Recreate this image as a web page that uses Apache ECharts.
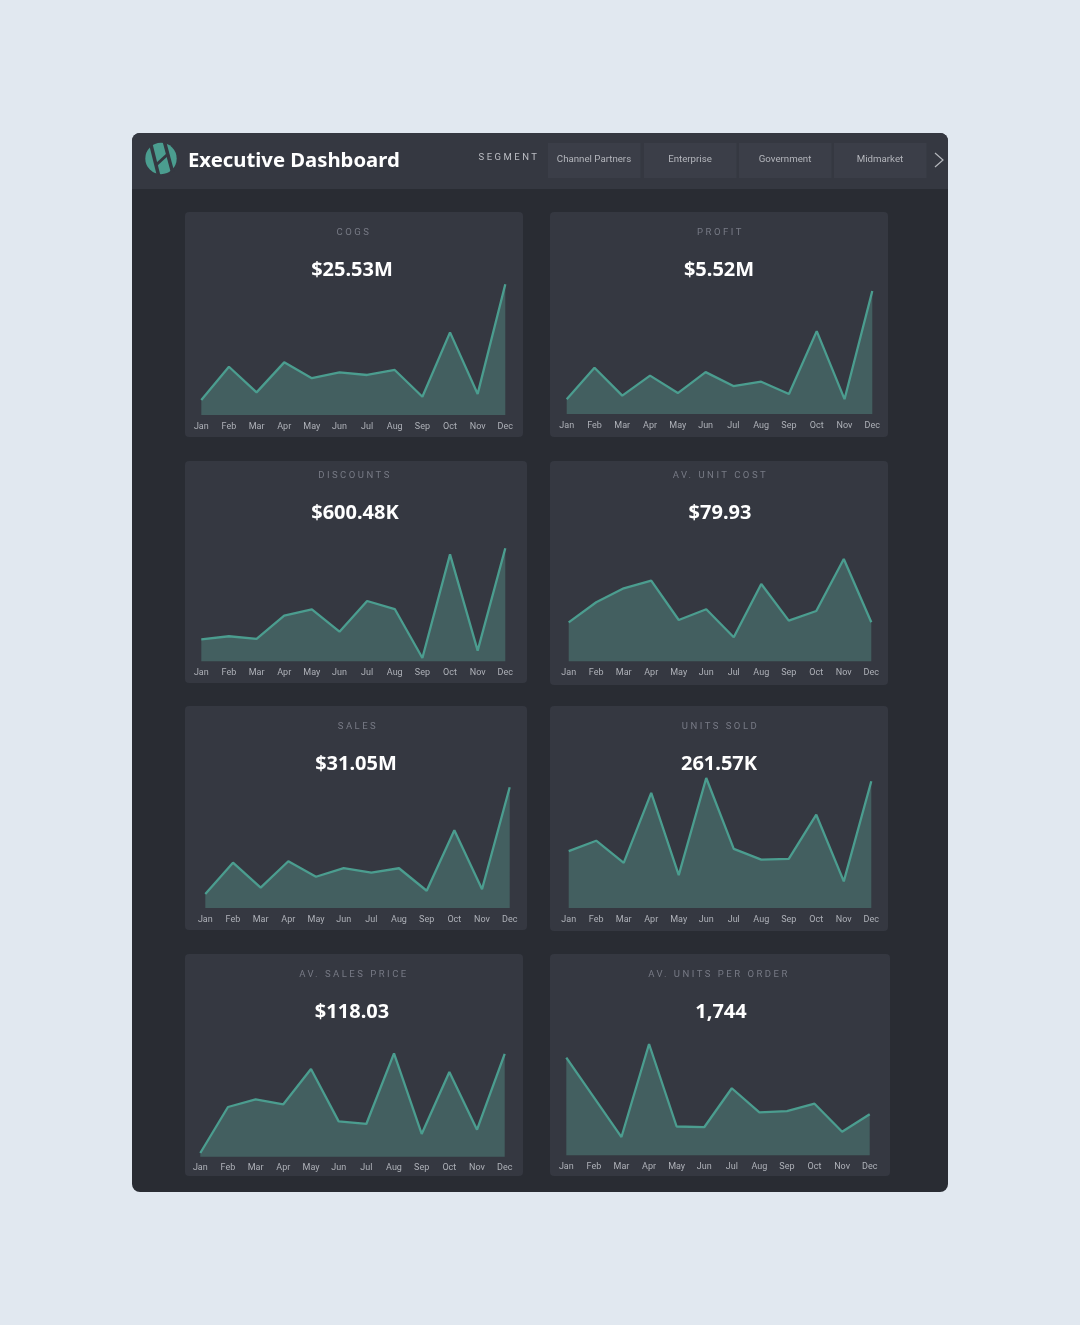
<!DOCTYPE html>
<html>
<head>
<meta charset="utf-8">
<title>Executive Dashboard</title>
<script src="https://cdn.jsdelivr.net/npm/echarts@6/dist/echarts.min.js"></script>
<style>
    html, body { margin: 0; padding: 0; background: #e1e8f0; }
    #wrap { position: relative; width: 1080px; height: 1325px; overflow: hidden; }
    #main { position: absolute; left: 0; top: 0; width: 1080px; height: 1325px; }
    .tracked {
        position: absolute;
        font-family: Roboto, sans-serif;
        font-size: 9.5px;
        line-height: 12px;
        white-space: nowrap;
        transform: translate(-50%, -50%);
    }
</style>
</head>
<body>
<div id="wrap"><div id="main"></div></div>
<script>
const months = ['Jan', 'Feb', 'Mar', 'Apr', 'May', 'Jun', 'Jul', 'Aug', 'Sep', 'Oct', 'Nov', 'Dec'];
const segments = ['Channel Partners', 'Enterprise', 'Government', 'Midmarket'];

// monthly values ($M, $K, $ or units)
const cogs = [0.69, 2.22, 1.04, 2.42, 1.69, 1.96, 1.84, 2.07, 0.84, 3.80, 0.97, 6.01];
const profit = [0.17, 0.53, 0.21, 0.44, 0.24, 0.48, 0.32, 0.37, 0.23, 0.95, 0.17, 1.41];
const discounts = [24.3, 27.7, 24.7, 50.5, 57.5, 32.8, 66.7, 57.8, 3.7, 118.3, 11.8, 125];
const unitCost = [55.1, 83.4, 103.2, 114, 58.4, 73.5, 33.9, 109.2, 57.5, 71.1, 144.6, 55.1];
const sales = [0.86, 2.78, 1.25, 2.87, 1.92, 2.45, 2.17, 2.44, 1.06, 4.77, 1.15, 7.41];
const unitsSold = [17.5, 20.7, 13.9, 35.4, 10.1, 40, 18.2, 14.9, 15.1, 28.7, 8.2, 39];
const salesPrice = [7.9, 106.5, 122.9, 112.2, 188, 75.7, 70.1, 221.5, 48.7, 181.6, 57.9, 220.2];
const unitsPerOrder = [278, 165, 52, 317, 82, 80, 191, 122, 126, 147, 67, 117];

const names = ['COGS', 'PROFIT', 'DISCOUNTS', 'AV. UNIT COST', 'SALES', 'UNITS SOLD', 'AV. SALES PRICE', 'AV. UNITS PER ORDER'];
const totals = ['$25.53M', '$5.52M', '$600.48K', '$79.93', '$31.05M', '261.57K', '$118.03', '1,744'];
const seriesValues = [cogs, profit, discounts, unitCost, sales, unitsSold, salesPrice, unitsPerOrder];

// page layout of each card: box, plot area, title and kpi anchors
const cards = [
    { x: 185, y: 212, w: 338, h: 225, left: 201.3, right: 505.3, top: 284.3, bottom: 415, nameX: 354, nameY: 231.5, kpiX: 352, kpiY: 270 },
    { x: 550, y: 212, w: 338, h: 225, left: 566.7, right: 872.3, top: 291, bottom: 414, nameX: 720.5, nameY: 231.5, kpiX: 719, kpiY: 270 },
    { x: 185, y: 461, w: 342, h: 222, left: 201.3, right: 505.3, top: 548.3, bottom: 661.3, nameX: 355, nameY: 474.5, kpiX: 355, kpiY: 513 },
    { x: 550, y: 461, w: 338, h: 224, left: 568.7, right: 871.3, top: 559, bottom: 661.3, nameX: 720.5, nameY: 474.5, kpiX: 720, kpiY: 513 },
    { x: 185, y: 706, w: 342, h: 224, left: 205.3, right: 509.7, top: 787.3, bottom: 908, nameX: 358, nameY: 725.5, kpiX: 356, kpiY: 764 },
    { x: 550, y: 706, w: 338, h: 225, left: 568.7, right: 871.3, top: 778, bottom: 908, nameX: 720.5, nameY: 725.5, kpiX: 719, kpiY: 764 },
    { x: 185, y: 954, w: 338, h: 222, left: 200.3, right: 504.7, top: 1053.3, bottom: 1156.7, nameX: 354, nameY: 973.5, kpiX: 352, kpiY: 1012 },
    { x: 550, y: 954, w: 340, h: 222, left: 566.3, right: 869.7, top: 1044, bottom: 1155.3, nameX: 719, nameY: 973.5, kpiX: 721, kpiY: 1012 }
];

const BODY_BG = '#292c33';
const PANEL_BG = '#353841';
const BUTTON_BG = '#3b3e48';
const LINE = '#4b9d8f';
const AREA = '#435f60';
const LOGO = '#4b9d8f';

function initDashboard(dom) {
    let chart = echarts.init(dom);

    let grid = [], xAxis = [], yAxis = [], series = [], title = [];
    let graphic = headerShapes();

    cards.forEach(function (c, i) {
        graphic.push({
            type: 'rect',
            shape: { x: c.x, y: c.y, width: c.w, height: c.h, r: 4 },
            style: { fill: PANEL_BG }
        });
        grid.push({ left: c.left, width: c.right - c.left, top: c.top, height: c.bottom - c.top });
        xAxis.push({
            type: 'category',
            gridIndex: i,
            data: months,
            boundaryGap: false,
            axisLine: { show: false },
            axisTick: { show: false },
            axisLabel: {
                interval: 0,
                margin: 7,
                color: '#aeb1b8',
                fontFamily: 'Roboto, sans-serif',
                fontSize: 9
            }
        });
        yAxis.push({
            type: 'value',
            gridIndex: i,
            show: false,
            min: 0,
            max: Math.max.apply(null, seriesValues[i])
        });
        series.push({
            type: 'line',
            name: names[i],
            xAxisIndex: i,
            yAxisIndex: i,
            data: seriesValues[i],
            symbol: 'none',
            clip: false,
            lineStyle: { color: LINE, width: 2.3 },
            areaStyle: { color: AREA, opacity: 1 }
        });
        title.push({
            text: totals[i],
            left: c.kpiX,
            top: c.kpiY,
            padding: 0,
            textAlign: 'center',
            textVerticalAlign: 'middle',
            textStyle: { color: '#ffffff', fontFamily: '"Noto Sans", sans-serif', fontSize: 20, fontWeight: 700 }
        });
        addTracked(names[i], c.nameX, c.nameY, '#777a85');
    });

    addTracked('SEGMENT', 509, 156.5, '#bcbec4');

    chart.setOption({
        animation: false,
        backgroundColor: '#e1e8f0',
        title: title,
        grid: grid,
        xAxis: xAxis,
        yAxis: yAxis,
        series: series,
        graphic: graphic
    });
}

// Body, header band, logo, segment slicer
function headerShapes() {
    let out = [
        { type: 'rect', shape: { x: 132, y: 133, width: 816, height: 1059, r: 8 }, style: { fill: BODY_BG } },
        { type: 'rect', shape: { x: 132, y: 133, width: 816, height: 56, r: [8, 8, 0, 0] }, style: { fill: PANEL_BG } },
        { type: 'circle', shape: { cx: 161, cy: 158.5, r: 15.7 }, style: { fill: LOGO } },
        { type: 'line', shape: { x1: 150.5, y1: 143, x2: 158.5, y2: 175 }, style: { stroke: PANEL_BG, lineWidth: 3.5 } },
        { type: 'line', shape: { x1: 164.5, y1: 142, x2: 172.5, y2: 172 }, style: { stroke: PANEL_BG, lineWidth: 3.5 } },
        { type: 'line', shape: { x1: 156, y1: 165, x2: 168, y2: 154 }, style: { stroke: PANEL_BG, lineWidth: 3 } },
        {
            type: 'text',
            x: 188,
            y: 161,
            style: {
                text: 'Executive Dashboard',
                fill: '#ffffff',
                font: '700 20.3px "Noto Sans", sans-serif',
                textAlign: 'left',
                textVerticalAlign: 'middle'
            }
        },
        {
            type: 'polyline',
            shape: { points: [[935, 153], [943, 160], [935, 167]] },
            style: { stroke: '#b5b7bc', lineWidth: 1.2, fill: 'none' }
        }
    ];
    let buttonX = [548, 644, 739, 834];
    segments.forEach(function (s, i) {
        out.push({
            type: 'rect',
            shape: { x: buttonX[i], y: 143, width: 92.5, height: 35 },
            style: { fill: BUTTON_BG }
        });
        out.push({
            type: 'text',
            x: buttonX[i] + 46,
            y: 159.5,
            style: {
                text: s,
                fill: '#b4b6bc',
                font: '9.7px Roboto, sans-serif',
                textAlign: 'center',
                textVerticalAlign: 'middle'
            }
        });
    });
    return out;
}

// ECharts text has no letter spacing, so the tracked captions are page text
function addTracked(text, cx, cy, color) {
    let el = document.createElement('div');
    el.className = 'tracked';
    el.textContent = text;
    el.style.left = cx + 'px';
    el.style.top = cy + 'px';
    el.style.color = color;
    el.style.letterSpacing = '2.5px';
    document.getElementById('wrap').appendChild(el);
}

initDashboard(document.getElementById('main'));
</script>
</body>
</html>
